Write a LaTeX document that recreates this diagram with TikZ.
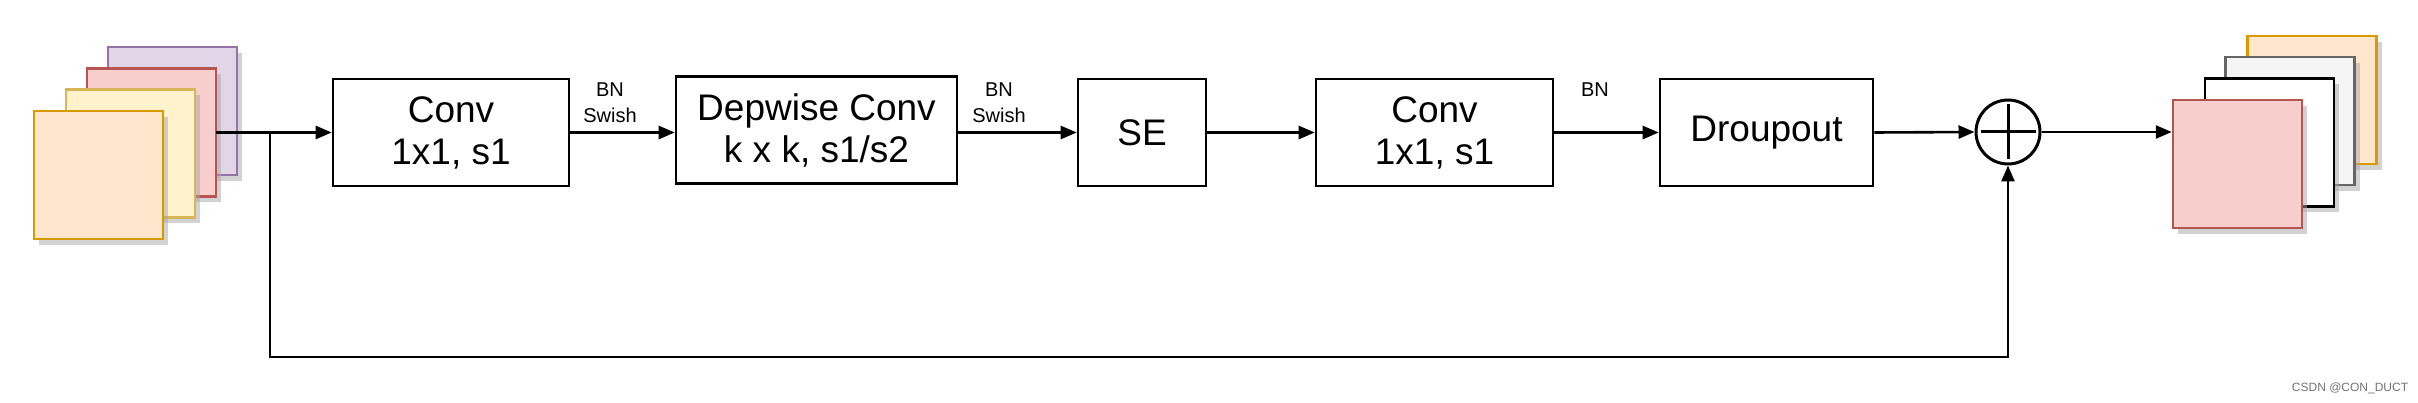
\documentclass[tikz,border=0pt]{standalone}
\usepackage{fontspec}
\setmainfont{Liberation Sans}
\usetikzlibrary{arrows.meta,shadows}
\definecolor{pf}{HTML}{E1D5E7}\definecolor{pd}{HTML}{9673A6}
\definecolor{rf}{HTML}{F8CECC}\definecolor{rd}{HTML}{B85450}
\definecolor{yf}{HTML}{FFF2CC}\definecolor{yd}{HTML}{D6B656}
\definecolor{of}{HTML}{FFE6CC}\definecolor{od}{HTML}{D79B00}
\definecolor{gf}{HTML}{F5F5F5}\definecolor{gd}{HTML}{666666}
\begin{document}
\begin{tikzpicture}[x=1pt,y=-1pt,
  sheet/.style={draw,line width=2.5pt,minimum width=129pt,minimum height=128pt,inner sep=0pt,
    drop shadow={shadow xshift=5pt,shadow yshift=-6pt,fill=black!35}},
  blk/.style={draw,line width=2.6pt,minimum height=107pt,inner sep=0pt,align=center,font=\fontsize{37}{42}\selectfont},
  lab/.style={font=\fontsize{20}{22}\selectfont,align=center,inner sep=0pt},
  arr/.style={line width=2.6pt,-{Triangle[length=16pt,width=13pt]}},
  ln/.style={line width=2.6pt}]
\useasboundingbox (0,0) rectangle (2418,403);
% input stack
\node[sheet,fill=pf,draw=pd] (i4) at (172.5,111) {};
\node[sheet,fill=rf,draw=rd] (i3) at (151.5,132.5) {};
\node[sheet,fill=yf,draw=yd] (i2) at (130.5,153.5) {};
\node[sheet,fill=of,draw=od] (i1) at (98.5,175) {};
% blocks
\node[blk,minimum width=236pt] (c1) at (451,132.5) {Conv\\1x1, s1};
\node[blk,minimum width=281pt] (dw) at (816.5,130) {Depwise Conv\\k x k, s1/s2};
\node[blk,minimum width=128pt] (se) at (1142,132.5) {SE};
\node[blk,minimum width=237pt] (c2) at (1434.5,132.5) {Conv\\1x1, s1};
\node[blk,minimum width=213pt] (dr) at (1766.5,132.5) {Droupout};
\node[draw,circle,line width=3pt,minimum size=64pt,inner sep=0pt] (sum) at (2008,132) {};
\draw[line width=3pt] ([xshift=6pt]sum.west)--([xshift=-6pt]sum.east) ([yshift=-6pt]sum.north)--([yshift=6pt]sum.south);
% output stack
\node[sheet,fill=of,draw=od] (o4) at (2312,100) {};
\node[sheet,fill=gf,draw=gd] (o3) at (2290,121) {};
\node[sheet,fill=white,draw=black] (o2) at (2269.5,142.5) {};
\node[sheet,fill=rf,draw=rd] (o1) at (2237.5,164) {};
% labels
\node[lab] (l1) at (610,103) {BN\\[4pt]Swish};
\node[lab] (l2) at (999,103) {BN\\[4pt]Swish};
\node[lab] (l3) at (1595,90) {BN};
\node[font=\fontsize{12}{14}\selectfont,text=black!55] (wm) at (2350,388) {CSDN @CON\_DUCT};
% connectors
\coordinate (st) at (216,132.5);
\coordinate (br) at (270,132.5);
\coordinate (bb) at (270,357);
\draw[arr] (st) -- (c1.west);
\draw[arr] (c1.east) -- (dw.west |- c1.east);
\draw[arr] (dw.east |- se.west) -- (se.west);
\draw[arr] (se.east) -- (c2.west);
\draw[arr] (c2.east) -- (dr.west);
\draw[arr] (dr.east) -- (sum.west);
\draw[arr] (sum.east) -- (o1.west |- sum.east);
\draw[arr] (br) -- (bb) -| (sum.south);
\end{tikzpicture}
\end{document}
